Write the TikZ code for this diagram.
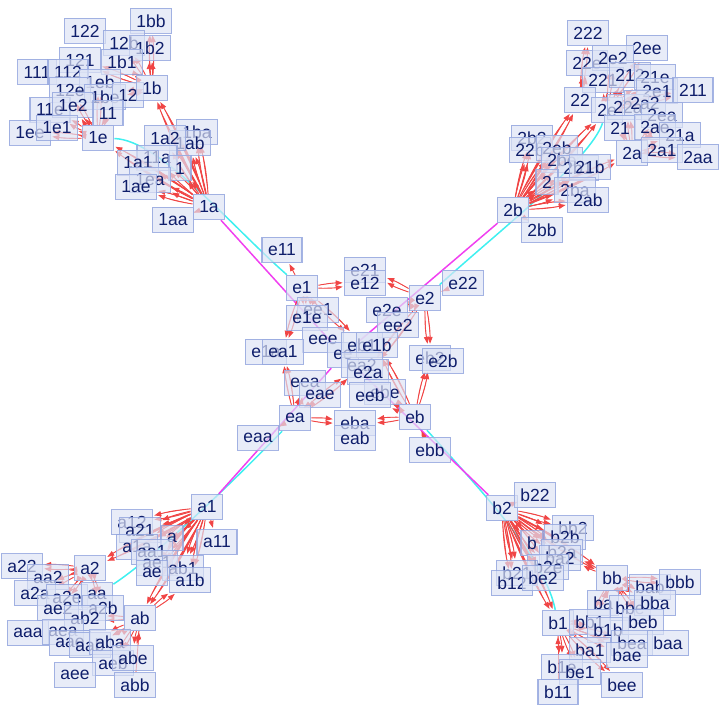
\documentclass[tikz,border=0pt]{standalone}
\usepackage{fontspec}
\setmainfont{Liberation Sans}
\usetikzlibrary{arrows.meta}
\definecolor{vfill}{HTML}{DDE3F5}
\definecolor{vdraw}{HTML}{95A7DF}
\definecolor{vtext}{HTML}{0F1E6B}
\definecolor{ered}{HTML}{F04545}
\definecolor{ecyan}{HTML}{40F0F0}
\definecolor{emag}{HTML}{F040F0}
\pgfdeclarelayer{edgelayer}
\pgfsetlayers{edgelayer,main}
\newcommand\pairar[2]{\draw[ar] (#1) to[bend left=5] (#2); \draw[ar] (#1) to[bend right=5] (#2);}
\begin{document}
\begin{tikzpicture}[x=1pt,y=-1pt,
  vbox/.style={draw=vdraw,line width=1.4pt,fill=vfill,fill opacity=0.68,draw opacity=0.85,text opacity=1,
    text=vtext,font=\fontsize{17.5}{17.5}\selectfont,minimum height=25pt,inner xsep=6pt,inner ysep=0pt},
  ar/.style={draw=ered,fill=ered,line width=0.9pt,-{Triangle[length=7pt,width=5pt]},shorten >=1pt},
  cy/.style={draw=ecyan,line width=1.5pt},
  mg/.style={draw=emag,line width=1.5pt}]
\useasboundingbox (0,0) rectangle (724,714);
% vertices
\foreach \n/\x/\y in {
 122/85/31, 1bb/151/21, 12b/124/43, 1b2/150/48, 121/80/60, 1b1/122/62, 111/37/72, 112/68/72,
 1eb/100/82, 12e/70/90, 1be/105/97, 12/128/95, 1b/152/88, 11e/50/110, 1e2/73/105, 11/108/113,
 1ee/30/133, 1e1/57/128, 1e/98/138, 1ba/197/132, 1ab/190/143, 1a2/165/138, 11a/157/158,
 1a1/138/163, 1/180/168, 1ea/150/180, 1ae/136/187, 1a/209/207, 1aa/173/220,
 222/588/33, 2ee/647/48, 22e/587/63, 2e2/613/58, 221/603/80, 212/630/75, 21e/655/77,
 2e1/657/91, 211/693/90, 22/580/100, 2e/607/110, 22a/628/107, 2a2/645/103, 2ea/662/115,
 21/620/128, 2ae/655/127, 21a/680/135, 2a/632/153, 2a1/662/150, 2aa/698/157,
 2b2/532/138, 22b/530/150, 2eb/557/148, 2be/562/160, 2b1/578/168, 21b/590/167, 2/547/182,
 2ba/575/190, 2ab/588/200, 2b/513/210, 2bb/542/230,
 e11/282/250, e1/302/288, e21/365/270, e12/365/283, e2/425/298, e22/463/283,
 ee1/318/310, e1e/307/318, e2e/387/310, ee2/398/325, eee/323/340, e1a/266/352, ea1/283/352,
 ee/343/355, eb1/362/345, e1b/377/345, eb2/430/358, e2b/443/361, ea2/362/365, e2a/368/372,
 eea/305/383, eae/320/395, ebe/385/392, eeb/370/395, ea/295/418, eb/415/417,
 eba/355/423, eab/355/438, eaa/258/438, ebb/430/450,
 a1/207/507, a12/132/522, a21/140/530, a/172/538, a11/217/542, a1a/137/547, aa1/152/552,
 ae1/157/563, ab1/183/568, a1b/190/580, ae/152/573, a22/22/566, a2/90/568, aa2/48/577,
 a2a/35/593, a2e/67/597, aa/97/595, ae2/58/608, a2b/103/608, ab2/85/618, ab/140/618,
 aaa/28/633, aea/63/632, aae/70/643, aab/90/645, aba/110/642, aeb/113/663, abe/133/658,
 aee/75/675, abb/135/685,
 b2/502/508, b22/535/495, bb2/573/528, b2b/565/537, b/532/543, b2a/562/552, ba2/560/558,
 b2e/548/567, b21/517/573, b12/512/583, be2/543/578, bb/612/578, bab/650/587, bbb/680/582,
 ba/603/603, bbe/630/608, bba/655/603, b1/558/623, bb1/590/622, b1b/608/630, beb/643/622,
 bea/632/643, baa/668/643, ba1/590/650, bae/627/655, b1e/562/667, be1/580/672,
 b11/558/692, bee/622/685}
 \node[vbox] (\n) at (\x,\y) {\n};
\begin{pgfonlayer}{edgelayer}
% long connectors
\draw[cy] (e1) .. controls (230,225) and (160,140) .. (1e);
\draw[cy] (e2) .. controls (500,230) and (590,160) .. (2e);
\draw[cy] (ea) .. controls (215,500) and (150,560) .. (aa);
\draw[cy] (eb) .. controls (490,500) and (545,560) .. (b1);
\draw[mg] (1a) -- (ee);
\draw[mg] (2b) -- (ee);
\draw[mg] (ee) -- (a1);
\draw[mg] (ee) -- (b2);
% top-left cluster
\foreach \t in {1ae,1ea,1a1,11a,1,1ab,1ba,1a2,1e,1b} {\pairar{1a}{\t}}
\foreach \t in {1e1,1ee,11e,1e2,12e,11,1eb} {\pairar{1e}{\t}}
\foreach \t in {1b1,1b2,1bb,12b,121,1be,12} {\pairar{1b}{\t}}
\draw[ar] (1aa) -- (1a);
% top-right cluster
\foreach \t in {2b2,22b,2eb,2be,2b1,21b,2,2ba,2ab,2a,22,2e} {\pairar{2b}{\t}}
\foreach \t in {2a1,2aa,21a,2ae,21,2ea,22a} {\pairar{2a}{\t}}
\foreach \t in {2e2,2ee,21e,2e1,211,221,212,2a2} {\pairar{2e}{\t}}
\foreach \t in {22e,222} {\pairar{22}{\t}}
\draw[ar] (2bb) -- (2b);
% centre cluster
\foreach \t in {e12,e1e,ea1,ee1,eb1} {\pairar{e1}{\t}}
\foreach \t in {e21,e2e,ee2,eb2,e2a} {\pairar{e2}{\t}}
\foreach \t in {eba,ea1,eea,eae,ea2} {\pairar{ea}{\t}}
\foreach \t in {eba,eb2,ebe,eeb,e1b} {\pairar{eb}{\t}}
\draw[ar] (e1) -- (e11);
\draw[ar] (e22) -- (e2);
\draw[ar] (eaa) -- (ea);
\draw[ar] (ebb) -- (eb);
% bottom-left cluster
\foreach \t in {a12,a21,a,a1a,aa1,ae1,ab1,a1b,ae,a2,ab} {\pairar{a1}{\t}}
\foreach \t in {a22,aa2,a2a,a2e,aa,ae2,a2b} {\pairar{a2}{\t}}
\foreach \t in {ab2,aba,abe,aeb,aab,a1b} {\pairar{ab}{\t}}
\draw[ar] (a1) -- (a11);
\draw[ar] (abb) -- (ab);
% bottom-right cluster
\foreach \t in {bb2,b2b,b,b2a,ba2,b21,b12,be2,b2e,bb,b1} {\pairar{b2}{\t}}
\foreach \t in {bbb,bab,bba,bbe,ba,beb,bb1,b2a} {\pairar{bb}{\t}}
\foreach \t in {b1e,be1,ba1,bb1,b1b,bee,bae,bea} {\pairar{b1}{\t}}
\draw[ar] (b22) -- (b2);
\draw[ar] (b11) -- (b1);
\end{pgfonlayer}
\end{tikzpicture}
\end{document}
